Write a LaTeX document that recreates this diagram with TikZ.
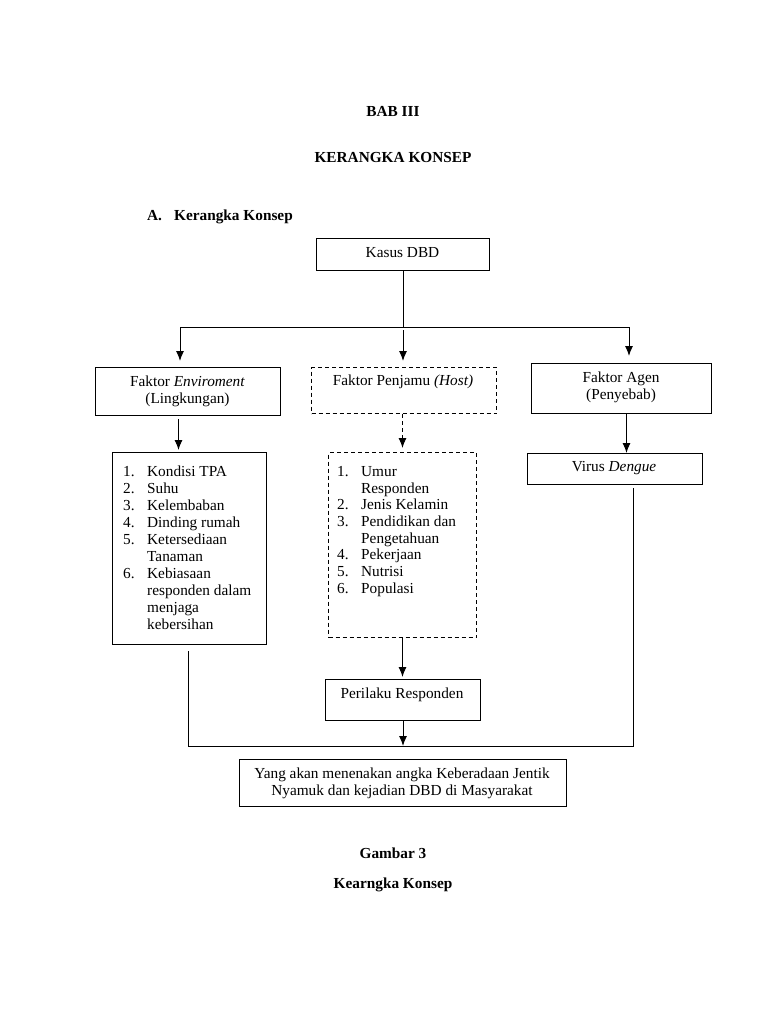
\documentclass[tikz,border=0pt]{standalone}
\usepackage{fontspec}
\setmainfont{Liberation Serif}
\usetikzlibrary{arrows.meta,positioning}

\newcommand{\fsize}{\fontsize{15.3}{17}\selectfont}
\newcommand{\numitem}[2]{\par\noindent\hangindent=24pt\hangafter=1\makebox[24pt][l]{#1.}#2\par}

\tikzset{
  box/.style={draw, line width=1pt, inner sep=0pt, anchor=north west},
  dbox/.style={box, dash pattern=on 4pt off 3pt},
  txt/.style={inner sep=0pt, align=center, font=\fsize},
  lst/.style={txt, align=flush left, text width=140pt, anchor=north west},
  ln/.style={line width=1pt},
  arr/.style={line width=1pt, -{Latex[length=10pt,width=8pt]}},
}

\begin{document}
\begin{tikzpicture}[x=1pt,y=-1pt]
\useasboundingbox (0,0) rectangle (768,1024);

% judul
\node[txt, font=\fsize\bfseries, anchor=base] (bab) at (393,117) {BAB III};
\node[txt, font=\fsize\bfseries, anchor=base] (judul) at (393,163) {KERANGKA KONSEP};
\node[txt, font=\fsize\bfseries, anchor=base west] (subjudul) at (147,221) {\makebox[27pt][l]{A.}Kerangka Konsep};

% kotak
\node[box, minimum width=173pt, minimum height=32pt] (kasus) at (316,238) {};
\node[box, minimum width=185pt, minimum height=48pt] (env) at (95,367) {};
\node[dbox, minimum width=185pt, minimum height=46pt] (host) at (311,367) {};
\node[box, minimum width=180pt, minimum height=50pt] (agen) at (531,363) {};
\node[box, minimum width=154pt, minimum height=192pt] (lstenv) at (112,452) {};
\node[dbox, minimum width=148pt, minimum height=185pt] (lsthost) at (328,452) {};
\node[box, minimum width=175pt, minimum height=31pt] (virus) at (527,453) {};
\node[box, minimum width=155pt, minimum height=41pt] (prilaku) at (325,679) {};
\node[box, minimum width=327pt, minimum height=47pt] (hasil) at (239,759) {};

% teks kotak
\node[txt, anchor=base] (kasus-t) at (402.5,257) {Kasus DBD};
\node[txt, anchor=north] (env-t) at (187.5,375.5) {Faktor \textit{Enviroment}\\(Lingkungan)};
\node[txt, anchor=base] (host-t) at (403,385) {Faktor Penjamu \textit{(Host)}};
\node[txt, anchor=north] (agen-t) at (621,371.5) {Faktor Agen\\(Penyebab)};
\node[txt, anchor=base] (virus-t) at (614,471) {Virus \textit{Dengue}};
\node[txt, anchor=base] (prilaku-t) at (402,698) {Perilaku Responden};
\node[txt, anchor=north] (hasil-t) at (402,767.5) {Yang akan menenakan angka Keberadaan Jentik\\Nyamuk dan kejadian DBD di Masyarakat};

\node[lst] (lstenv-t) at (123,459.5) {\numitem{1}{Kondisi TPA}\numitem{2}{Suhu}\numitem{3}{Kelembaban}\numitem{4}{Dinding rumah}\numitem{5}{Ketersediaan\newline Tanaman}\numitem{6}{Kebiasaan\newline responden dalam\newline menjaga\newline kebersihan}};
\node[lst, font=\fontsize{15.3}{16.7}\selectfont] (lsthost-t) at (337,459.5) {\numitem{1}{Umur\newline Responden}\numitem{2}{Jenis Kelamin}\numitem{3}{Pendidikan dan\newline Pengetahuan}\numitem{4}{Pekerjaan}\numitem{5}{Nutrisi}\numitem{6}{Populasi}};

% keterangan gambar
\node[txt, font=\fsize\bfseries, anchor=base] (gambar) at (393,858) {Gambar 3};
\node[txt, font=\fsize\bfseries, anchor=base] (ket) at (393,888) {Kearngka Konsep};

% garis cabang atas
\coordinate (cab-l) at (180,327);
\coordinate (cab-r) at (629,327);
\draw[ln] (kasus.south) -- (kasus.south |- cab-l);
\draw[ln] (cab-l) -- (cab-r);
\draw[arr, shorten >=6pt] (cab-l) -- (cab-l |- env.north);
\draw[arr, shorten >=6pt] ([yshift=-3pt]kasus.south |- cab-l) -- (kasus.south |- host.north);
\draw[arr, shorten >=7pt] (cab-r) -- (cab-r |- agen.north);

% panah ke rincian
\draw[arr, shorten <=3pt, shorten >=2pt] ([xshift=-9.5pt]env.south) -- ([xshift=-9.5pt]env.south |- lstenv.north);
\draw[arr, dash pattern=on 4pt off 3pt, shorten >=4pt] ([xshift=-1.5pt]host.south) -- ([xshift=-1.5pt]host.south |- lsthost.north);
\draw[arr] ([xshift=5pt]agen.south) -- ([xshift=5pt]agen.south |- virus.north);
\draw[arr, shorten >=2pt] (lsthost.south) -- (lsthost.south |- prilaku.north);

% garis gabungan bawah
\coordinate (gab-l) at (188,746);
\coordinate (gab-r) at (633,746);
\draw[ln] ([yshift=-6pt]lstenv.south -| gab-l) -- (gab-l) -- (gab-r) -- ([yshift=-3pt]virus.south -| gab-r);
\draw[arr] (prilaku.south) -- (prilaku.south |- gab-l);
\end{tikzpicture}
\end{document}
